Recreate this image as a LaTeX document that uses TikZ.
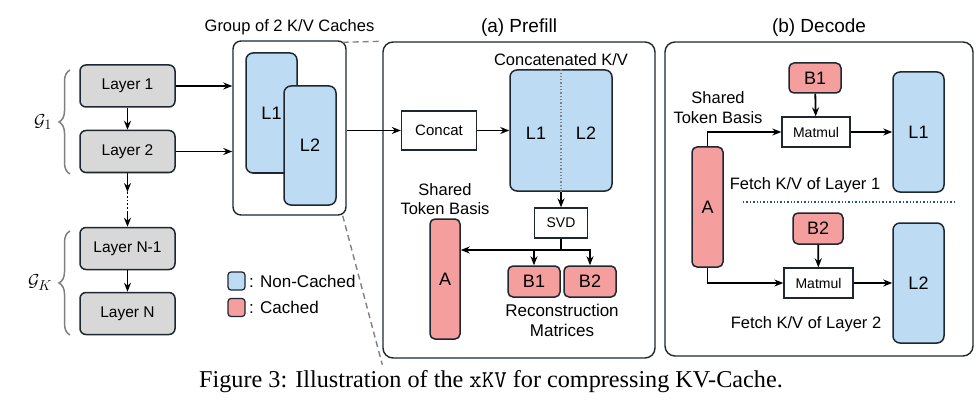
\documentclass[tikz,border=0pt]{standalone}
\usepackage{fontspec}
\setmainfont{Liberation Sans}
\newfontfamily\capfont{Liberation Serif}
\usetikzlibrary{arrows.meta,positioning,calc,decorations.pathreplacing}

\definecolor{kvblue}{RGB}{189,219,243}
\definecolor{kvred}{RGB}{244,158,158}
\definecolor{layergray}{RGB}{216,216,216}
\definecolor{edgedark}{RGB}{30,38,48}
\definecolor{septeal}{RGB}{40,85,115}

\tikzset{
  layerbox/.style={draw=edgedark, line width=1.5pt, fill=layergray, rounded corners=6pt,
    minimum width=95pt, minimum height=42pt, font=\fontsize{15.5}{18}\selectfont},
  noncached/.style={draw=edgedark, line width=1.5pt, fill=kvblue, rounded corners=7pt,
    font=\fontsize{18}{20}\selectfont},
  cached/.style={draw=edgedark, line width=1.5pt, fill=kvred, rounded corners=5pt,
    font=\fontsize{18}{20}\selectfont},
  opbox/.style={draw=edgedark, line width=1.3pt, fill=white, font=\fontsize{14}{16}\selectfont},
  panel/.style={draw=edgedark, line width=1.4pt, rounded corners=10pt},
  flow/.style={-{Stealth[length=9pt,width=7pt]}, line width=1.8pt},
  wire/.style={line width=1.8pt},
  lbl/.style={font=\fontsize{16.5}{19.5}\selectfont, align=center},
  title/.style={font=\fontsize{19}{21}\selectfont},
  grp/.style={decorate, decoration={brace, amplitude=11pt}, draw=gray, line width=1.5pt}
}

\begin{document}
\begin{tikzpicture}[x=1pt, y=-1pt]
\useasboundingbox (0,0) rectangle (980,401);

% Layers and groups
\node[layerbox] (lay1) at (127.5,86) {Layer 1};
\node[layerbox] (lay2) at (127.5,151.5) {Layer 2};
\node[layerbox] (layn1) at (127.5,248.5) {Layer N-1};
\node[layerbox] (layn) at (127.5,313.5) {Layer N};
\draw[flow] (lay1) -- (lay2);
\coordinate (dotA) at (127.5,192);
\coordinate (dotB) at (127.5,213);
\draw[flow] (lay2) -- (dotA);
\draw[line width=1.8pt, dotted] (dotA) -- (dotB);
\draw[flow] (dotB) -- (layn1);
\draw[flow] (layn1) -- (layn);
\draw[grp] (70,174) -- (70,70) node[midway, left=14pt] (g1) {\fontsize{19}{21}\selectfont$\mathcal{G}_1$};
\draw[grp] (70,335) -- (70,231) node[midway, left=14pt] (gk) {\fontsize{19}{21}\selectfont$\mathcal{G}_K$};

% Group of 2 K/V caches
\node[panel, rounded corners=8pt, minimum width=113pt, minimum height=174pt] (group) at (289.5,128) {};
\node[lbl, above=2pt of group] (grouplbl) {Group of 2 K/V Caches};
\node[noncached, minimum width=51pt, minimum height=120pt] (c1) at (271.5,113) {L1};
\node[noncached, minimum width=52pt, minimum height=119pt] (c2) at (310,145.5) {L2};
\draw[flow] (lay1.east) -- (lay1.east -| group.west);
\draw[flow] (lay2.east) -- (lay2.east -| group.west);

% Legend
\node[noncached, rounded corners=3pt, minimum width=17pt, minimum height=18pt, line width=1.2pt] (legblue) at (236.5,281) {};
\node[cached, rounded corners=3pt, minimum width=17pt, minimum height=18pt, line width=1.2pt] (legred) at (236.5,307.5) {};
\node[lbl, font=\fontsize{17}{19}\selectfont, right=0pt of legblue] {: Non-Cached};
\node[lbl, font=\fontsize{17}{19}\selectfont, right=0pt of legred] {: Cached};

% Prefill panel
\node[panel, minimum width=272pt, minimum height=316pt] (prefill) at (519,200) {};
\node[title, above=1pt of prefill] {(a) Prefill};
\draw[gray, line width=1.4pt, dash pattern=on 6pt off 4pt] (group.north east) ++(-4,2) -- (prefill.north west);
\draw[gray, line width=1.4pt, dash pattern=on 6pt off 4pt] (group.south east) ++(-4,0) -- ([yshift=-6pt]prefill.south west);
\node[opbox, minimum width=75pt, minimum height=39pt, font=\fontsize{15}{17}\selectfont] (concat) at (439,130.5) {Concat};
\draw[flow] (group.east |- concat) -- (concat);
\node[noncached, minimum width=102pt, minimum height=121pt] (concatkv) at (561,130.5) {};
\node[lbl, above=0pt of concatkv] {Concatenated K/V};
\draw[gray, line width=1.3pt, dotted] (concatkv.north) -- (concatkv.south);
\node[font=\fontsize{18}{20}\selectfont] (ckv1) at (536,133) {L1};
\node[font=\fontsize{18}{20}\selectfont] (ckv2) at (586,133) {L2};
\draw[flow] (concat) -- (concatkv);
\node[opbox, minimum width=53pt, minimum height=30pt] (svd) at (561,223) {SVD};
\draw[flow] (concatkv) -- (svd);
\node[cached, minimum width=30pt, minimum height=120pt] (pa) at (445,279) {A};
\node[lbl, above=0pt of pa] {Shared\\Token Basis};
\node[cached, minimum width=52pt, minimum height=31pt] (pb1) at (534,281.5) {B1};
\node[cached, minimum width=52pt, minimum height=31pt] (pb2) at (590,281.5) {B2};
\node[lbl, font=\fontsize{17}{20}\selectfont, below=3pt of {$(pb1.south)!0.5!(pb2.south)$}] {Reconstruction\\Matrices};
\coordinate (split) at (561,250);
\draw[wire] (svd) -- (split);
\draw[flow] (split) -- (split -| pa.east);
\draw[flow] (split) -| (pb1);
\draw[flow] (split) -| (pb2);

% Decode panel
\node[panel, minimum width=308pt, minimum height=314pt] (decode) at (819,199) {};
\node[title, above=1pt of decode] {(b) Decode};
\node[cached, minimum width=52pt, minimum height=30pt] (db1) at (815,78) {B1};
\node[opbox, minimum width=68pt, minimum height=30pt] (mm1) at (816,132) {Matmul};
\node[noncached, minimum width=51pt, minimum height=120pt] (dl1) at (918.5,132) {L1};
\node[cached, minimum width=31pt, minimum height=120pt] (da) at (707.5,207) {A};
\node[lbl, anchor=south] at (718,127) {Shared\\Token Basis};
\node[lbl] (fetch1) at (805,185) {Fetch K/V of Layer 1};
\draw[septeal, line width=1.4pt, dotted] (743,202) -- (957,202);
\node[cached, minimum width=50pt, minimum height=31pt] (db2) at (818,228.5) {B2};
\node[opbox, minimum width=69pt, minimum height=30pt] (mm2) at (818.5,283) {Matmul};
\node[noncached, minimum width=51pt, minimum height=120pt] (dl2) at (918.5,283) {L2};
\node[lbl] (fetch2) at (806,324) {Fetch K/V of Layer 2};
\draw[flow] (db1) -- (mm1);
\draw[flow] (mm1) -- (dl1);
\draw[flow] (da.north) |- (mm1.west);
\draw[flow] (db2) -- (mm2);
\draw[flow] (mm2) -- (dl2);
\draw[flow] (da.south) |- (mm2.west);

% Caption
\node[font=\capfont\fontsize{24.2}{26}\selectfont] (caption) at (491,382) {Figure 3: Illustration of the \texttt{xKV} for compressing KV-Cache.};
\end{tikzpicture}
\end{document}
